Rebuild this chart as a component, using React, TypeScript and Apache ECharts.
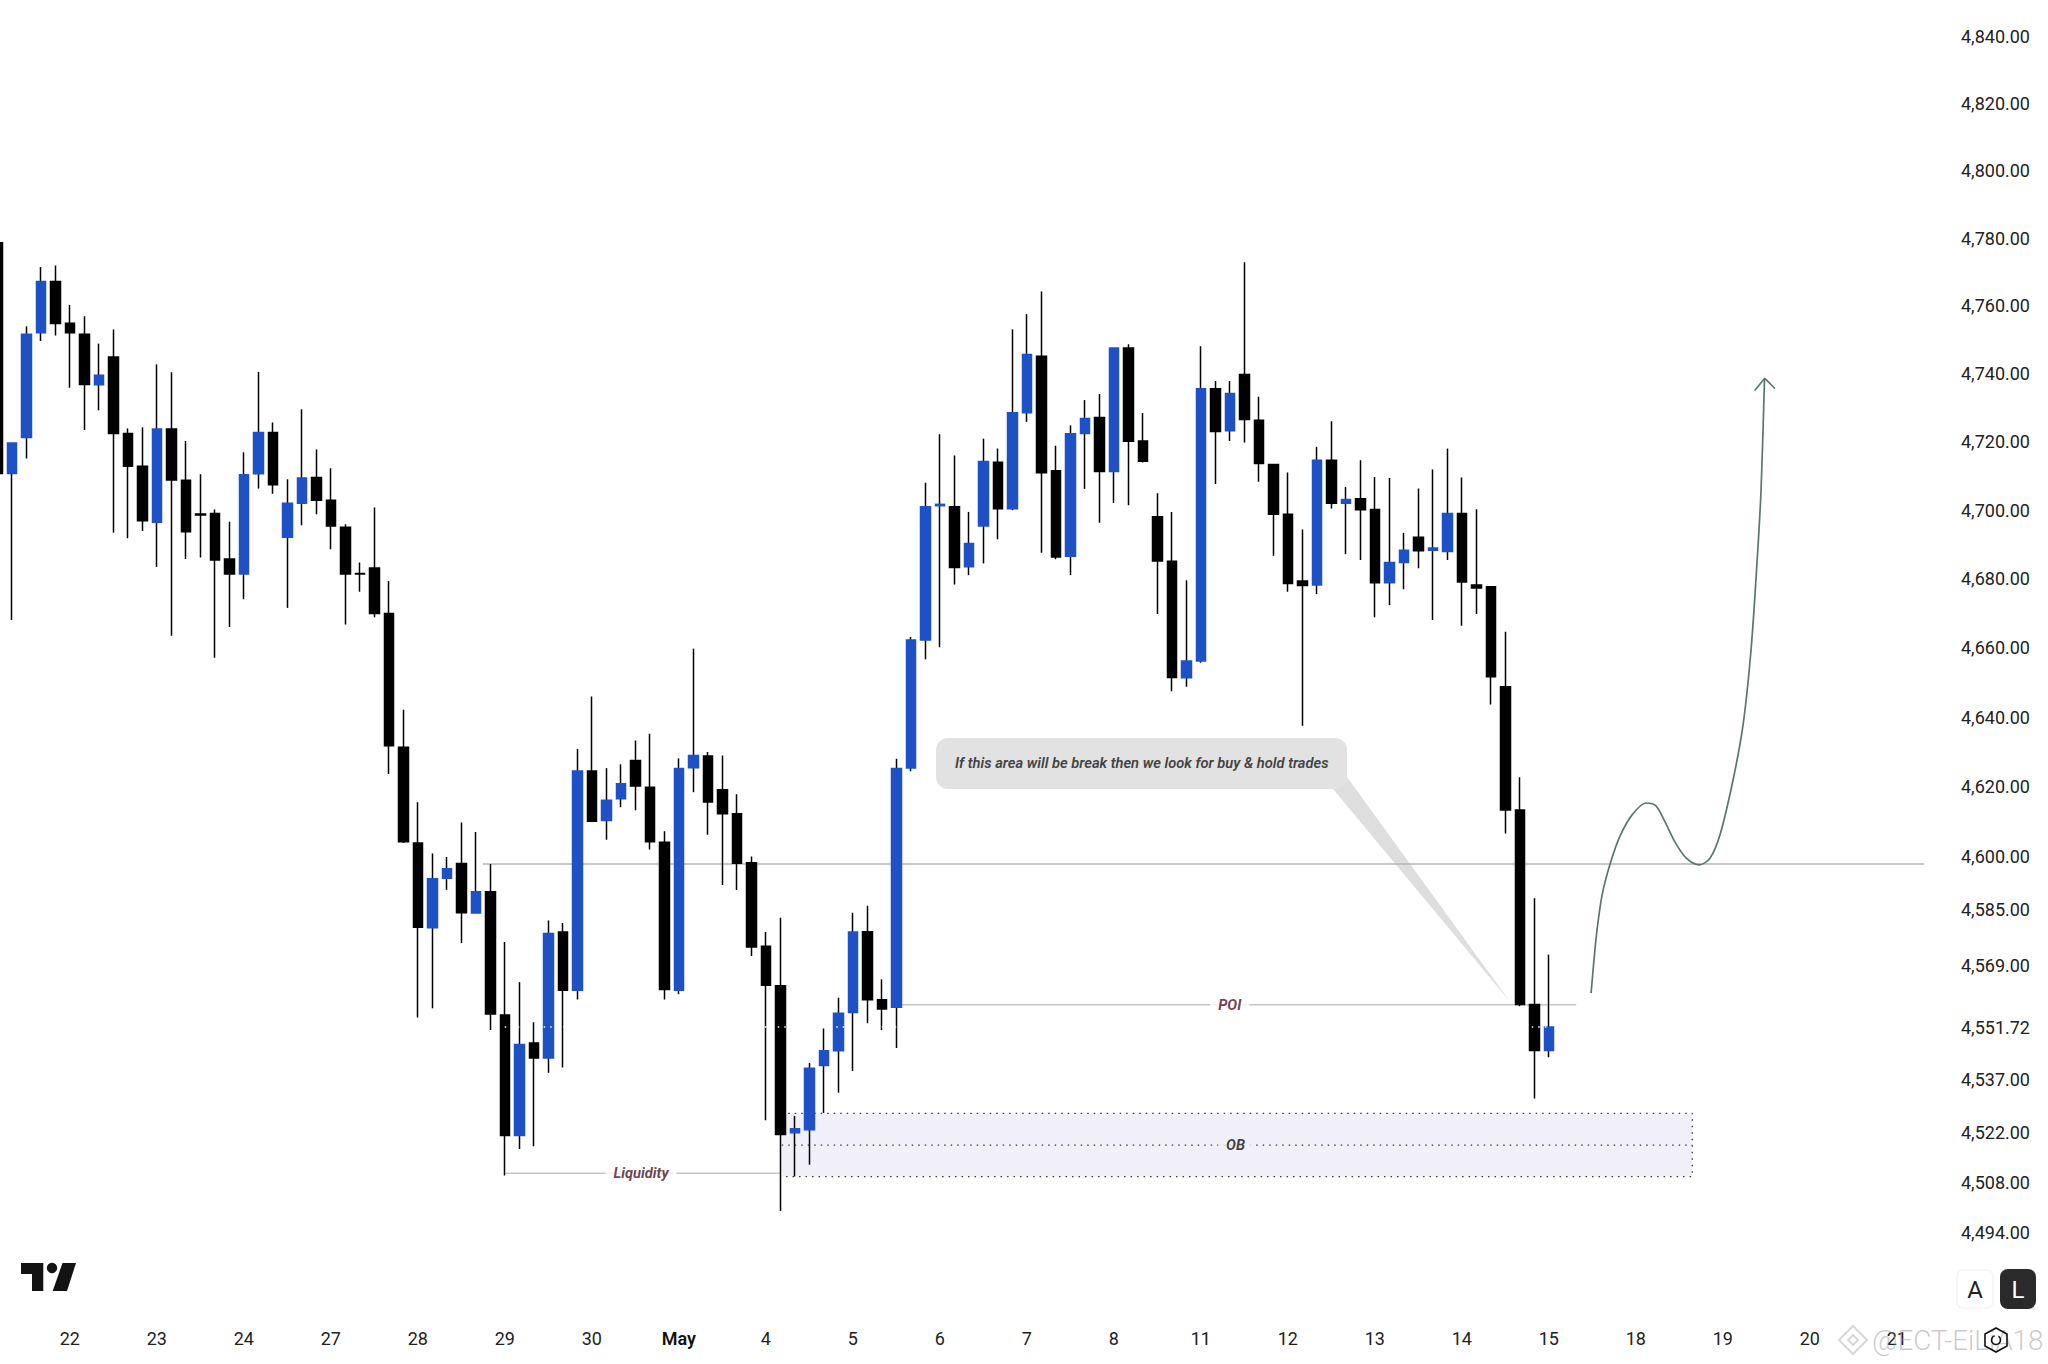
import React, { useEffect, useRef } from "react";
import * as echarts from "echarts";

const dayLabels = ["22","23","24","27","28","29","30","May","4","5","6","7","8","11","12","13","14","15","18","19","20","21"];
const priceTicks = [4840,4820,4800,4780,4760,4740,4720,4700,4680,4660,4640,4620,4600,4585,4569,4551.72,4537,4522,4508,4494];

// 4-hour candles; the first sits partly off the left edge of the chart
const opens = [4778.6,4710.7,4721.2,4752,4767.1,4754.8,4751.6,4736.7,4744.9,4722.4,4712.8,4696.5,4723.7,4708.7,4698.9,4699,4685.8,4681.4,4710.6,4722.7,4692.1,4702,4709.5,4702.9,4695,4681.6,4683.2,4670,4631.4,4604,4579.8,4593.9,4598.1,4584,4590.1,4555.1,4521.2,4547.2,4543,4578.6,4562.1,4624.6,4610.4,4616.6,4627.6,4619.9,4604.2,4562.1,4625.5,4628.9,4619.2,4612.3,4598.3,4574.6,4563.4,4522,4522.8,4540.9,4545,4555.8,4578.7,4559.4,4557.3,4625.4,4662.3,4701.3,4701,4683.5,4695.4,4714,4700.4,4728.5,4745.1,4711.5,4686.6,4722.4,4727.1,4711.3,4747.5,4720.2,4698.1,4685.1,4651.4,4656.2,4735.5,4723.2,4739.7,4726.3,4713.3,4698.8,4679.4,4678.2,4714.6,4702,4703.3,4700.2,4678.9,4684.8,4692.1,4688.3,4688,4699,4678.2,4677.7,4648.8,4613.4,4558.1,4545.1];
const closes = [4710.7,4719.6,4751.6,4767.1,4754.7,4752,4736.8,4739.5,4722.4,4712.8,4696.9,4723.7,4708.8,4693.7,4698.6,4685.5,4681.4,4710.3,4722.7,4707.4,4702,4709.4,4702.9,4695.4,4681.4,4681.4,4670,4631.8,4604.3,4580,4593.8,4596.6,4584.1,4590.1,4555.4,4521.2,4546.8,4543,4578.2,4562.1,4624.6,4610.2,4616.2,4620.9,4620.3,4604.3,4562.3,4625.3,4629,4615.7,4612.3,4598.2,4574.4,4563.5,4521.5,4523.1,4540.1,4545,4555.6,4578.6,4559.4,4556.8,4625.3,4662.3,4701,4701.7,4683.3,4690.3,4714.2,4700.4,4728.5,4745.6,4710.9,4686.4,4722.3,4726.8,4711.3,4747.5,4720.1,4714.3,4685.2,4651.5,4656.2,4735.5,4723,4734.1,4726.5,4713.6,4698.8,4678.7,4678.1,4714.6,4702,4703.1,4700.1,4678.9,4684.8,4688.3,4688.2,4689,4699,4679.1,4677.4,4651.7,4613.4,4558.1,4545.1,4551.7];
const highs = [4779,4719.6,4753.9,4771.4,4771.9,4760.2,4756.9,4748.8,4753,4723.9,4724.2,4742.7,4740.4,4720.2,4710.5,4700.2,4696.6,4716.9,4740.5,4725.6,4709,4729.5,4717.7,4712.2,4695.9,4684.8,4700.8,4679.4,4642.2,4615.6,4601,4600,4609.8,4607.1,4598,4575.8,4564.4,4553.1,4581.9,4581.2,4630.9,4646,4625.4,4626.5,4633.3,4635.3,4607.3,4628.2,4659.8,4630,4629,4617.9,4600.1,4578.6,4582.7,4526.7,4541.6,4551.3,4560,4584.1,4586.1,4565.2,4628.1,4663.2,4708,4722.2,4716,4699.5,4720.9,4718,4753,4757.5,4764.2,4718.8,4724.8,4732.2,4734,4747.5,4748.6,4728.4,4704.9,4699.5,4679.6,4748,4737.8,4737.8,4772.8,4733.2,4713.3,4711,4694.4,4718.5,4726,4706.8,4714.6,4709.7,4709.4,4693.4,4706.3,4711.9,4718,4709.5,4700.3,4677.7,4664.7,4622.8,4588.2,4572.2];
const lows = [4708,4668.1,4715.1,4749.6,4751.2,4735.8,4723.4,4729.2,4693.4,4691.8,4693.9,4683.5,4663.5,4685.8,4686.2,4657.2,4666.1,4674.1,4706.3,4704.8,4671.6,4695.6,4698.8,4688.6,4666.8,4676.3,4668.9,4623.7,4604,4554.4,4557,4590.6,4575.5,4584,4550.9,4510,4517.4,4518.2,4538.8,4540.3,4559.5,4610,4604.9,4614.2,4613.3,4602.1,4559.5,4561,4618.5,4606.3,4592,4590.6,4571.8,4525.5,4500.1,4509.7,4513,4527.5,4533.2,4539.3,4552.8,4550.9,4545.8,4624.5,4656.7,4660.2,4678.4,4681.1,4684.5,4691.5,4700,4725.8,4687.6,4685.7,4681.1,4706.2,4696.3,4702.1,4701.4,4713.9,4669.8,4647.5,4648.8,4655.7,4707.6,4720.2,4719.8,4708.3,4686.7,4676.3,4637.6,4675.6,4700.5,4687.2,4685.5,4668.9,4672.4,4677,4683.1,4668.1,4685.5,4666.4,4669.8,4643.7,4606.7,4557.6,4531.6,4543.2];

// Annotations, as [candle position, price]; candle position 0 is the first whole candle
const keyLevel = [[32.5,4598],[131.9,4598]];
const poiLine = [[61.3,4558],[107.9,4558]];
const liquidityLine = [[34,4510.6],[53,4510.6]];
const lastPriceLine = [[34,4551.72],[106,4551.72]];
const obBox = [[53.1,4527.4,115.9,4509.7]];
const obOutline = [[53.1,4527.4],[115.9,4527.4],[115.9,4509.7],[53.1,4509.7]];
const obMiddle = [[53.1,4518.5],[115.9,4518.5]];
const forecastPath = [[108.92,4561.3],[109.12,4570.7],[109.33,4579.2],[109.68,4589.2],[110.23,4598],[110.92,4606],[111.75,4612],[112.71,4615.4],[113.39,4614.6],[114.02,4610],[114.71,4604.2],[115.47,4599.7],[116.37,4597.7],[117.13,4599.7],[117.81,4606.3],[118.71,4622],[119.4,4637.8],[119.95,4659.4],[120.36,4684.5],[120.64,4705.8],[120.88,4738.3]];
const arrowHead = [[120.2,4735],[120.9,4738.6],[121.6,4735.6]];
const noteLabels = [[43.4,4510.6,"Liquidity"],[84,4558,"POI"]];
const obLabel = [[84.4,4518.5,"OB"]];
const calloutText = "If this area will be break then we look for buy & hold trades";
const watermarkText = "@ECT-EiLiA18";

const FONT = "Roboto";
const BLUE = "#1f51c6";
const OB_FILL = "#f1eff8";
const SLOT_COUNT = 134;
const SLOT_PX = 14.5;
const CHART_SHIFT = 10;

const categories = Array.from({ length: SLOT_COUNT }, (_, i) => {
  const k = i - 1 - 4;
  return k >= 0 && k % 6 === 0 && dayLabels[k / 6] ? dayLabels[k / 6] : "";
});

const lineSeries = (pts: number[][], color: string, width: number, type: any = "solid", z = 1, smooth: any = false) => ({
  type: "line", xAxisIndex: 1, yAxisIndex: 0, data: pts, silent: true, showSymbol: false, symbol: "none", smooth, z,
  lineStyle: { color, width, type }, animation: false,
});

const labelSeries = (pts: any[], color: string, size: number, bg: string, pad: number[]) => ({
  type: "scatter", xAxisIndex: 1, yAxisIndex: 0, data: pts, symbolSize: 1, silent: true, z: 6,
  itemStyle: { color: "transparent" },
  label: {
    show: true, position: "inside", formatter: (p: any) => p.value[2], color, fontFamily: FONT, fontStyle: "italic",
    fontWeight: 700, fontSize: size, backgroundColor: bg, padding: pad,
  },
});

export default function App() {
  const ref = useRef<HTMLDivElement>(null);
  useEffect(() => {
    const chart = echarts.init(ref.current!, undefined, { renderer: "svg" });
    const idx = opens.map((_, i) => i);
    const isUp = (i: number) => closes[i] > opens[i];
    const downData = idx.filter((i) => !isUp(i)).map((i) => [i, opens[i], closes[i], lows[i], highs[i]]);
    const upWicks = idx.filter(isUp).map((i) => [i, opens[i], closes[i], lows[i], highs[i]]);
    const upBodies = idx.filter(isUp).map((i) => [i, opens[i], closes[i], opens[i], closes[i]]);
    const candle = (data: number[][], color: string, barWidth: number, z: number, borderWidth = 1.5) => ({
      type: "candlestick", xAxisIndex: 0, yAxisIndex: 0, data, barWidth, z, silent: true,
      encode: { x: 0, y: [1, 2, 3, 4] },
      itemStyle: { color, color0: color, borderColor: color, borderColor0: color, borderWidth },
    });
    const hexagon = [[1996,1328],[2007,1334],[2007,1346],[1996,1352],[1985,1346],[1985,1334]];
    chart.setOption({
      animation: false,
      backgroundColor: "#ffffff",
      grid: { left: 0, top: 0, width: SLOT_COUNT * SLOT_PX, height: 1300, containLabel: false },
      xAxis: [
        {
          type: "category", data: categories, boundaryGap: true,
          axisLine: { show: false }, axisTick: { show: false }, splitLine: { show: false },
          axisLabel: {
            interval: (_: number, v: string) => v !== "", margin: 29, color: "#222", fontFamily: FONT, fontSize: 18,
            hideOverlap: false,
            formatter: (v: string) => (v === "May" ? "{m|May}" : v),
            rich: { m: { fontFamily: FONT, fontSize: 18, fontWeight: 600, color: "#111" } },
          },
        },
        { type: "value", min: -1.5, max: SLOT_COUNT - 1.5, show: false, splitLine: { show: false } },
      ],
      yAxis: {
        type: "log", logBase: 10, min: 4475.3, max: 4851.1, position: "right", scale: true,
        axisLine: { show: false }, axisTick: { show: false }, splitLine: { show: false }, minorTick: { show: false },
        axisLabel: {
          customValues: priceTicks, margin: 28, align: "left", color: "#222", fontFamily: FONT, fontSize: 18,
          formatter: (v: number) => Number(v).toLocaleString("en-US", { minimumFractionDigits: 2, maximumFractionDigits: 2 }),
        },
      },
      series: [
        {
          type: "custom", xAxisIndex: 1, yAxisIndex: 0, data: obBox, silent: true, z: 1,
          encode: { x: [0, 2], y: [1, 3] },
          renderItem: (_: any, api: any) => {
            const a = api.coord([api.value(0), api.value(1)]);
            const b = api.coord([api.value(2), api.value(3)]);
            return { type: "rect", shape: { x: a[0], y: a[1], width: b[0] - a[0], height: b[1] - a[1] }, style: { fill: OB_FILL } };
          },
        },
        lineSeries(keyLevel, "#b3b6b6", 1.5),
        lineSeries(poiLine, "#c4c6c6", 1.5),
        lineSeries(liquidityLine, "#c4c6c6", 1.5),
        lineSeries(obOutline, "#3a3a3a", 1.3, [1.5, 5]),
        lineSeries(obMiddle, "#3a3a3a", 1.3, [1.5, 5]),
        lineSeries(forecastPath, "#5d7571", 1.7, "solid", 3, 0.3),
        lineSeries(arrowHead, "#5d7571", 1.7, "solid", 3),
        candle(downData, "#000000", 10, 4),
        candle(upWicks, "#000000", 0.2, 4),
        candle(upBodies, BLUE, 10, 5),
        lineSeries(lastPriceLine, "#ffffff", 1.3, [1.5, 5], 5.5),
        labelSeries(noteLabels, "#4d1026", 14.7, "#ffffff", [2, 8, 2, 8]),
        labelSeries(obLabel, "#111111", 14.7, OB_FILL, [2, 8, 2, 8]),
      ],
      graphic: [{
        type: "group", x: CHART_SHIFT, y: 0, silent: true,
        children: [
          { type: "polygon", z: 0, silent: true, shape: { points: [[1333,789],[1347,777],[1511,1003]] }, style: { fill: "rgba(218,218,218,0.9)" } },
          { type: "rect", z: 0, silent: true, shape: { x: 936, y: 738, width: 411, height: 51, r: 12 }, style: { fill: "#e2e2e2" } },
          { type: "text", z: 7, silent: true, x: 955, y: 763, style: { text: calloutText, fill: "#444444", fontFamily: FONT, fontStyle: "italic", fontWeight: 600, fontSize: 14.7, verticalAlign: "middle", textAlign: "left" } },
          // TradingView mark
          { type: "polygon", z: 7, silent: true, shape: { points: [[21,1263],[43.3,1263],[43.3,1291],[32,1291],[32,1274],[21,1274]] }, style: { fill: "#131313" } },
          { type: "circle", z: 7, silent: true, shape: { cx: 52, cy: 1268, r: 5.2 }, style: { fill: "#131313" } },
          { type: "polygon", z: 7, silent: true, shape: { points: [[62.5,1263],[76,1263],[67,1291],[52.7,1291]] }, style: { fill: "#131313" } },
          // Scale buttons
          { type: "rect", z: 7, silent: true, shape: { x: 1957, y: 1270, width: 36, height: 38, r: 6 }, style: { fill: "#ffffff", stroke: "#eeeeee", lineWidth: 1 } },
          { type: "text", z: 8, silent: true, x: 1975, y: 1290, style: { text: "A", fill: "#222222", fontFamily: FONT, fontSize: 24, textAlign: "center", verticalAlign: "middle" } },
          { type: "rect", z: 7, silent: true, shape: { x: 2000, y: 1269, width: 36, height: 40, r: 8 }, style: { fill: "#2a2a2a" } },
          { type: "text", z: 8, silent: true, x: 2018, y: 1290, style: { text: "L", fill: "#ffffff", fontFamily: FONT, fontSize: 24, textAlign: "center", verticalAlign: "middle" } },
          // Watermark
          { type: "polygon", z: 9, silent: true, shape: { points: [[1853,1326],[1867,1340],[1853,1354],[1839,1340]] }, style: { fill: "none", stroke: "#d8d8d8", lineWidth: 2 } },
          { type: "polygon", z: 9, silent: true, shape: { points: [[1853,1335],[1858,1340],[1853,1345],[1848,1340]] }, style: { fill: "none", stroke: "#d8d8d8", lineWidth: 2 } },
          { type: "text", z: 9, silent: true, x: 1872, y: 1340, style: { text: watermarkText, fill: "rgba(150,150,150,0.5)", fontFamily: FONT, fontSize: 27.8, fontWeight: 300, textAlign: "left", verticalAlign: "middle" } },
          // Settings hexagon
          { type: "polygon", z: 10, silent: true, shape: { points: hexagon }, style: { fill: "none", stroke: "#111111", lineWidth: 1.6 } },
          { type: "arc", z: 10, silent: true, shape: { cx: 1996, cy: 1340, r: 4.5, startAngle: -1, endAngle: 4.4 }, style: { fill: "none", stroke: "#111111", lineWidth: 1.5 } },
        ],
      }],
    });
    return () => chart.dispose();
  }, []);
  return <div ref={ref} style={{ position: "absolute", left: -CHART_SHIFT, top: 0, width: 2048 + CHART_SHIFT, height: 1364, background: "#fff" }} />;
}
